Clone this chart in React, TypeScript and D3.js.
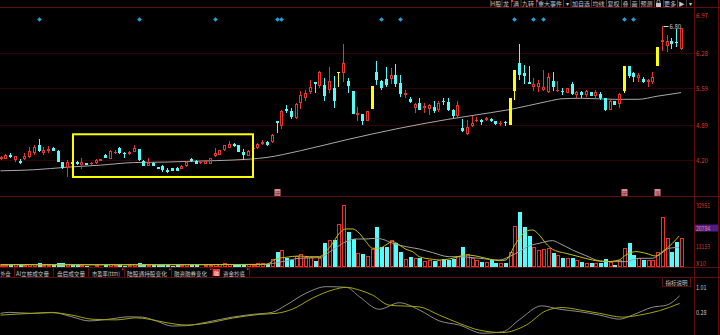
import React from "react";
import * as d3 from "d3";

const W = 720, H = 335;

const opens = [4.22,4.22,4.30,4.20,4.19,4.22,4.25,4.33,4.49,4.33,4.38,4.44,4.38,4.16,4.04,4.17,4.17,4.11,4.14,4.12,4.14,4.19,4.30,4.22,4.33,4.44,4.33,4.31,4.36,4.41,4.19,4.09,4.15,4.06,4.08,4.01,4.04,4.05,4.03,4.08,4.22,4.19,4.14,4.13,4.13,4.28,4.30,4.39,4.44,4.52,4.49,4.36,4.28,4.41,4.43,4.51,4.55,4.55,4.95,4.87,5.19,5.16,5.01,5.31,5.41,5.52,5.71,5.64,5.66,5.56,5.59,5.89,5.89,5.74,5.55,5.07,5.10,4.96,5.19,5.92,5.73,5.77,5.77,5.86,5.70,5.46,5.38,5.21,5.31,5.22,5.20,5.23,5.18,5.34,5.32,5.18,5.05,4.82,4.70,4.87,4.95,4.98,4.98,4.99,4.95,4.90,4.93,4.89,5.55,6.08,5.89,5.71,5.62,5.62,5.56,5.52,5.73,5.54,5.54,5.51,5.68,5.46,5.52,5.46,5.52,5.45,5.48,5.40,5.18,5.34,5.29,5.55,6.03,5.90,5.79,5.78,5.71,5.72,6.03,6.50,6.41,6.51,6.50,6.36];
const highs = [4.27,4.31,4.33,4.28,4.22,4.33,4.46,4.49,4.60,4.46,4.47,4.45,4.39,4.17,4.20,4.19,4.18,4.23,4.15,4.16,4.21,4.22,4.31,4.39,4.39,4.45,4.35,4.37,4.50,4.42,4.20,4.24,4.16,4.07,4.10,4.04,4.05,4.06,4.10,4.18,4.23,4.20,4.18,4.19,4.24,4.43,4.40,4.50,4.57,4.53,4.50,4.41,4.39,4.45,4.53,4.58,4.56,4.70,4.95,5.18,5.27,5.21,5.30,5.54,5.57,5.76,5.71,5.93,5.80,6.01,5.84,5.91,6.46,5.80,5.55,5.23,5.10,5.16,5.64,6.12,5.76,6.00,5.98,6.06,5.86,5.56,5.43,5.31,5.40,5.31,5.29,5.35,5.35,5.41,5.40,5.20,5.35,4.99,4.98,5.06,5.03,4.99,5.04,5.02,4.96,4.95,4.96,5.40,5.94,6.46,6.05,6.02,5.79,5.75,5.95,5.90,5.91,5.74,5.59,5.60,5.72,5.55,5.54,5.57,5.53,5.57,5.53,5.41,5.37,5.35,5.50,6.03,6.03,5.92,5.89,5.81,5.77,5.92,6.39,6.80,6.63,6.57,6.74,6.77];
const lows = [4.20,4.21,4.23,4.17,4.13,4.20,4.23,4.30,4.36,4.30,4.33,4.37,4.16,4.03,3.87,4.10,4.11,4.03,4.10,4.11,4.13,4.19,4.23,4.21,4.32,4.32,4.24,4.30,4.35,4.19,4.08,4.08,4.08,4.02,3.97,3.94,3.98,3.98,4.02,4.07,4.17,4.12,4.13,4.12,4.12,4.25,4.29,4.38,4.43,4.46,4.35,4.20,4.27,4.40,4.42,4.49,4.48,4.54,4.73,4.81,5.11,4.99,5.00,5.20,5.34,5.48,5.51,5.60,5.35,5.50,5.22,5.61,5.71,5.51,5.09,4.96,4.89,4.95,5.19,5.66,5.56,5.62,5.68,5.62,5.43,5.41,5.31,5.11,5.17,5.11,5.07,5.11,5.13,5.26,5.15,5.01,5.03,4.74,4.68,4.85,4.93,4.88,4.95,4.94,4.89,4.86,4.86,4.89,5.36,5.75,5.68,5.67,5.55,5.53,5.54,5.50,5.55,5.52,5.46,5.50,5.46,5.41,5.41,5.43,5.44,5.41,5.37,5.16,5.17,5.26,5.21,5.51,5.79,5.71,5.72,5.70,5.62,5.68,6.03,6.31,6.29,6.36,6.39,6.34];
const closes = [4.25,4.30,4.25,4.27,4.14,4.28,4.38,4.46,4.38,4.39,4.42,4.38,4.17,4.04,4.17,4.12,4.12,4.17,4.11,4.15,4.20,4.22,4.24,4.38,4.36,4.33,4.32,4.36,4.44,4.20,4.09,4.14,4.09,4.03,4.00,3.97,3.99,3.99,4.09,4.17,4.18,4.13,4.17,4.18,4.23,4.34,4.39,4.49,4.51,4.47,4.36,4.30,4.38,4.44,4.52,4.55,4.49,4.69,4.91,5.16,5.16,5.03,5.29,5.46,5.50,5.62,5.67,5.91,5.45,5.73,5.35,5.91,6.08,5.64,5.10,5.11,4.95,5.15,5.64,5.76,5.60,5.66,5.85,5.68,5.48,5.50,5.32,5.29,5.18,5.25,5.27,5.16,5.31,5.32,5.18,5.05,5.27,4.76,4.85,4.91,4.98,4.93,5.01,4.96,4.90,4.91,4.91,5.40,5.94,5.86,5.84,5.68,5.68,5.70,5.62,5.82,5.62,5.56,5.52,5.59,5.48,5.53,5.46,5.54,5.45,5.53,5.40,5.17,5.35,5.27,5.48,6.03,5.84,5.81,5.86,5.72,5.75,5.82,6.39,6.53,6.52,6.45,6.47,6.76];
const volumes = [1200,1400,1300,1500,1200,1400,2000,1700,2500,1400,1300,1200,2500,2100,1800,1300,1100,1400,900,900,1000,800,1200,1600,1100,1300,900,1000,1800,2100,1500,1200,1300,1000,1300,1100,900,1000,1300,1500,1000,1100,900,1100,1300,1500,1600,2400,1700,1600,1600,1400,1500,1200,2100,2100,1800,4400,8270,9170,4770,3870,5990,7050,5300,5300,3500,4770,13040,14470,14470,22950,32951,18550,15000,7420,7050,5990,9540,21520,10600,10600,14470,13040,8270,4400,5620,4770,4770,3500,3870,3340,3870,4240,3870,4240,5990,10600,7050,4770,3870,2990,2990,3870,2460,2460,2460,8290,21900,29150,21200,16600,10950,9190,9540,10070,7420,6530,4770,4770,4770,3870,2990,2460,2460,2460,2460,4420,2990,1230,3870,10070,13050,6530,4770,3870,3870,3870,7940,26500,15370,8290,13600,15370];
const yellowCandles = [71, 78, 107, 108, 131, 138];

const maIdx = [0,7,14,21,28,35,42,49,56,63,73,84,94,103,107,115,118,122,129,134,138,143];
const maVal = [3.99,4.01,4.06,4.10,4.15,4.16,4.18,4.20,4.25,4.38,4.60,4.82,4.99,5.12,5.18,5.34,5.39,5.40,5.38,5.38,5.44,5.51];

const vmaYIdx = [0,20,41.7,55.8,57.9,60,62.8,64.9,67,68.4,69.8,71.2,72.6,74,75.4,76.8,78.2,79.6,81,82.4,83.8,85.2,86.6,88,90.8,92.2,95,97.8,99.9,102,104.8,106.2,108.3,110.4,111.8,113.2,114.6,116,118.8,121.6,124.4,127.2,130,131.4,133.5,135.6,137.7,139.1,141.2,142.6];
const vmaYVal = [1500,1400,1400,1570,4400,5300,5990,5620,5620,8290,12720,18030,20320,20320,18030,13600,10070,10070,11840,13600,11840,9540,8290,5620,4240,3870,4770,6530,5990,4770,3500,3870,12720,18900,19790,17140,12720,9540,7420,5620,3870,2990,3870,6530,8290,7420,5990,8290,12720,16600];
const vmaGIdx = [0,20,42,55,59.3,62.8,67,69.8,72.6,74.7,76.8,78.9,80.3,82.4,85.2,88,90.8,94.3,96.4,100.6,104.8,106.9,109,111.1,113.2,116,117.4,120.2,123,125.8,128.6,131.4,134.2,137,138.4,140.5,142.6];
const vmaGVal = [1300,1300,1400,1500,2990,4770,5120,9190,13600,15000,15000,15370,14840,12720,10950,9700,7770,5620,5620,4770,3870,5620,8290,11310,12720,14130,12720,9190,6180,3500,2990,2990,4770,4770,6530,10070,10600];

const indGrayIdx = [0,1.8,6.6,10.8,15,18.6,22.8,27,29.8,32.7,36.1,39,43.2,48.7,52.9,57.1,60,64.2,68.5,72.7,75.4,79.6,83.8,88,92.2,96.4,101.3,105.5,109,113.7,117.5,121.7,125.9,130.1,132.8,137,140,142.7];
const indGrayVal = [0.24,0.27,0.24,0.27,0.14,0.02,0.07,0.14,0.13,0.02,-0.13,-0.12,-0.02,0.13,0.21,0.27,0.48,0.83,1.02,1.00,0.73,0.36,0.55,0.34,0.02,-0.10,-0.34,-0.30,0.05,0.46,0.36,0.29,0.19,0.07,0.19,0.42,0.48,0.75];
const indYelIdx = [0,6.6,10.8,15,19.2,24.3,28.5,31.2,34.8,39,43.2,48.7,54.4,57.9,61.3,65.5,69.7,72.7,75.4,78.1,81.7,88,92.2,96.4,100.6,105.5,110.5,114.7,118.1,121.7,125.9,130.7,134.3,138.5,142.7];
const indYelVal = [0.19,0.24,0.26,0.19,0.07,0.05,0.11,0.07,-0.03,-0.10,-0.05,0.10,0.21,0.24,0.36,0.68,0.92,1.00,0.92,0.78,0.48,0.43,0.19,-0.05,-0.25,-0.32,-0.10,0.32,0.41,0.34,0.24,0.13,0.19,0.32,0.53];

const priceTicks = [4.20, 4.89, 5.59, 6.28, 6.97];
const volTicks = [11153, 32951];
const volMarker = 20784;
const indTicks = [0.28, 1.01];
const signalIdx = [8, 29, 45, 58, 59, 80, 84, 108, 112, 114, 131, 133];
const eventIdx = [58, 131, 138];
const eventText = ["研", "研", "涨"];
const highIdx = 139;
const boxIdx = [15.23, 53.06];
const boxPrice = [4.70, 3.87];

const toolbarLabels = ["H股","龙","满","九转","重大事件","▾","加自选","均线","复权","叠","画","预测","","更多","▶","▾"];
const toolbarCenters = [496,506,516,528,550,567,581,598.5,613.5,625.5,634.5,646.5,658.5,670,681.5,690];
const toolbarSeps = [490,501.5,511,520.5,536,563,570.5,591,606,621,630,639,654,663,677,686];
const tabLabels = ["外盘","AI立桩成交量","盘后成交量","市盈率(ttm)","陆股通持股变化","融资融券变化","资金抄底"];
const tabStarts = [0.5, 16, 57, 92, 127, 174, 223];
const tabWidths = [10, 33, 28, 28, 40, 33, 22];
const tabSeps = [14, 53, 88, 124, 171, 212, 249];
const tabDots = [122, 169, 210, 247];

const RED = "#e5352d";
const CYAN = "#54fcfc";
const YEL = "#ffff00";
const GRID = "#2e0505";
const BORDER = "#620c0c";
const AXT = "#d63a32";
const FONT = "'Noto Sans CJK SC','Noto Sans',sans-serif";

export default function App() {
  const x = d3.scaleLinear().domain([0, 143]).range([0.5, 681]);
  const y = d3.scaleLinear().domain([4.20, 6.28]).range([160, 53]);
  const yv = d3.scaleLinear().domain([0, 32951]).range([267.3, 205.1]);
  const yi = d3.scaleLinear().domain([0.28, 1.01]).range([312, 287]);
  const yellowSet = new Set(yellowCandles);

  const mkLine = (ys: (v: number) => number) =>
    d3.line<[number, number]>().x((d) => x(d[0])).y((d) => ys(d[1])).curve(d3.curveMonotoneX);
  const zip = (a: number[], b: number[]) => a.map((v, i) => [v, b[i]] as [number, number]);

  const candles = opens.map((o, i) => {
    const c = closes[i];
    const px = Math.round(x(i));
    const cx = px + 0.5;
    const yel = yellowSet.has(i);
    const up = c >= o;
    const col = yel ? YEL : up ? RED : CYAN;
    const yt = Math.round(y(Math.max(o, c)));
    const yb = Math.round(y(Math.min(o, c)));
    const yh = Math.round(y(highs[i]));
    const yl = Math.round(y(lows[i]));
    const bh = Math.max(1, yb - yt);
    if (up && !yel) {
      return (
        <g key={i}>
          <line x1={cx} x2={cx} y1={yh} y2={yt} stroke={col} />
          <line x1={cx} x2={cx} y1={yt + bh} y2={yl} stroke={col} />
          {bh >= 2 ? (
            <rect x={px - 0.5} y={yt + 0.5} width={2} height={bh - 1} fill="none" stroke={col} />
          ) : (
            <rect x={px - 1} y={yt} width={3} height={1} fill={col} />
          )}
        </g>
      );
    }
    return (
      <g key={i}>
        <line x1={cx} x2={cx} y1={yh} y2={yl} stroke={col} />
        <rect x={px - 1} y={yt} width={3} height={bh} fill={col} />
      </g>
    );
  });

  const vbars = volumes.map((v, i) => {
    const px = Math.round(x(i));
    const base = 267;
    const yt = Math.min(base - 1, Math.round(yv(v)));
    const h = base - yt;
    const up = closes[i] >= opens[i];
    if (up) {
      return <rect key={i} x={px - 0.5} y={yt + 0.5} width={3} height={Math.max(0, h - 1)} fill="none" stroke={RED} />;
    }
    return <rect key={i} x={px - 1} y={yt} width={4} height={h} fill={CYAN} />;
  });

  const diamond = d3.symbol().type(d3.symbolDiamond2).size(14)();

  const hx = Math.round(x(highIdx)) + 0.5;
  const hy = Math.round(y(highs[highIdx])) + 0.5;

  return (
    <div style={{ position: "fixed", left: 0, top: 0, width: W, height: H, background: "#000" }}>
      <svg width={W} height={H} style={{ display: "block", background: "#000" }} fontFamily={FONT}>
        <defs>
          <clipPath id="mainClip"><rect x={0} y={8} width={694} height={188} /></clipPath>
          <clipPath id="volClip"><rect x={0} y={197} width={694} height={70} /></clipPath>
          <clipPath id="indClip"><rect x={0} y={278} width={694} height={57} /></clipPath>
        </defs>

        {priceTicks.filter((t) => t < 6.5).map((t) => (
          <line key={t} x1={0} x2={694} y1={Math.round(y(t)) + 0.5} y2={Math.round(y(t)) + 0.5} stroke={GRID} />
        ))}

        <line x1={0} x2={W} y1={7.5} y2={7.5} stroke={BORDER} />
        <line x1={0} x2={W} y1={196.5} y2={196.5} stroke={BORDER} />
        <line x1={0} x2={W} y1={267.5} y2={267.5} stroke={BORDER} />
        <line x1={0} x2={W} y1={277.5} y2={277.5} stroke={BORDER} />
        <line x1={694.5} x2={694.5} y1={0} y2={H} stroke={BORDER} />
        <line x1={718.5} x2={718.5} y1={0} y2={H} stroke={BORDER} />

        {toolbarSeps.map((s, i) => (
          <line key={i} x1={s + 0.5} x2={s + 0.5} y1={0} y2={7} stroke="#3c3c3c" />
        ))}
        {toolbarLabels.map((t, i) =>
          t ? (
            <text key={i} x={toolbarCenters[i]} y={6} fontSize={6} fill="#c4c4c4" textAnchor="middle">{t}</text>
          ) : null
        )}
        <rect x={656} y={3} width={5} height={4} fill="#c4c4c4" />
        <path d="M657 3 V1.5 A1.5 1.5 0 0 1 660 1.5 V3" fill="none" stroke="#c4c4c4" strokeWidth={0.8} />
        <rect x={511} y={0} width={2} height={2} fill={RED} />
        <rect x={536} y={0} width={2} height={2} fill={RED} />

        {signalIdx.map((i) => (
          <path key={i} d={diamond || ""} transform={`translate(${Math.round(x(i)) + 0.5},19.5)`} fill="#22a0dc" />
        ))}

        <g clipPath="url(#mainClip)">
          <path d={mkLine(y)(zip(maIdx, maVal)) || ""} fill="none" stroke="#a8a8a8" strokeWidth={1} />
          {candles}
          <rect
            x={x(boxIdx[0])}
            y={y(boxPrice[0])}
            width={x(boxIdx[1]) - x(boxIdx[0])}
            height={y(boxPrice[1]) - y(boxPrice[0])}
            fill="none"
            stroke={YEL}
            strokeWidth={2}
          />
          <line x1={hx + 1} x2={hx + 6} y1={hy} y2={hy} stroke="#d8d8d8" />
          <text x={hx + 7} y={hy} fontSize={6} fill="#cfcfcf" dominantBaseline="central">{highs[highIdx].toFixed(2)}</text>
          {eventIdx.map((i, k) => (
            <g key={i}>
              <rect x={Math.round(x(i)) - 2.5} y={189} width={6} height={7} fill="#d98c94" />
              <text x={Math.round(x(i)) + 0.5} y={192.7} fontSize={5} fill="#7a1020" textAnchor="middle" dominantBaseline="central">{eventText[k]}</text>
            </g>
          ))}
        </g>

        {priceTicks.map((t) => (
          <text key={t} x={696} y={t > 6.5 ? 15 : y(t)} fontSize={6.5} fill={AXT} dominantBaseline="central" textLength={12} lengthAdjust="spacingAndGlyphs">{t.toFixed(2)}</text>
        ))}

        <g clipPath="url(#volClip)">
          {vbars}
          <path d={mkLine(yv)(zip(vmaGIdx, vmaGVal)) || ""} fill="none" stroke="#a0a0a0" strokeWidth={1} />
          <path d={mkLine(yv)(zip(vmaYIdx, vmaYVal)) || ""} fill="none" stroke="#c4c400" strokeWidth={1} />
        </g>
        {volTicks.map((t) => (
          <text key={t} x={696} y={yv(t)} fontSize={6} fill={AXT} dominantBaseline="central" textLength={14} lengthAdjust="spacingAndGlyphs">{t}</text>
        ))}
        <rect x={695} y={yv(volMarker) - 3.5} width={23} height={7} fill="#4c1f88" />
        <text x={696} y={yv(volMarker)} fontSize={6} fill="#ff7a7a" dominantBaseline="central" textLength={14} lengthAdjust="spacingAndGlyphs">{volMarker}</text>
        <text x={696} y={263} fontSize={6} fill={AXT} dominantBaseline="central" textLength={10} lengthAdjust="spacingAndGlyphs">X10</text>

        {tabSeps.map((s, i) => (
          <line key={i} x1={s + 0.5} x2={s + 0.5} y1={268} y2={277} stroke={BORDER} />
        ))}
        {tabLabels.map((t, i) => (
          <text key={i} x={tabStarts[i]} y={273} fontSize={5.7} fill="#c4c4c4" dominantBaseline="central" textLength={tabWidths[i]} lengthAdjust="spacingAndGlyphs">{t}</text>
        ))}
        {tabDots.map((d, i) => (
          <rect key={i} x={d} y={268.5} width={1.5} height={1.5} fill={RED} />
        ))}
        <rect x={213} y={269} width={7} height={7} fill="#e83a3a" />
        <text x={216.5} y={272.6} fontSize={5} fill="#fff" textAnchor="middle" dominantBaseline="central">融</text>

        <g clipPath="url(#indClip)">
          <path d={mkLine(yi)(zip(indGrayIdx, indGrayVal)) || ""} fill="none" stroke="#8c8c8c" strokeWidth={1} />
          <path d={mkLine(yi)(zip(indYelIdx, indYelVal)) || ""} fill="none" stroke="#a6a600" strokeWidth={1} />
        </g>
        <rect x={662.5} y={277.5} width={28} height={9} fill="#000" stroke={BORDER} />
        <text x={676.5} y={282} fontSize={5.7} fill="#c4c4c4" textAnchor="middle" dominantBaseline="central" textLength={22} lengthAdjust="spacingAndGlyphs">指标说明</text>
        {indTicks.map((t) => (
          <text key={t} x={696} y={yi(t)} fontSize={6} fill="#c8c8c8" dominantBaseline="central" textLength={10.5} lengthAdjust="spacingAndGlyphs">{t.toFixed(2)}</text>
        ))}
      </svg>
    </div>
  );
}
